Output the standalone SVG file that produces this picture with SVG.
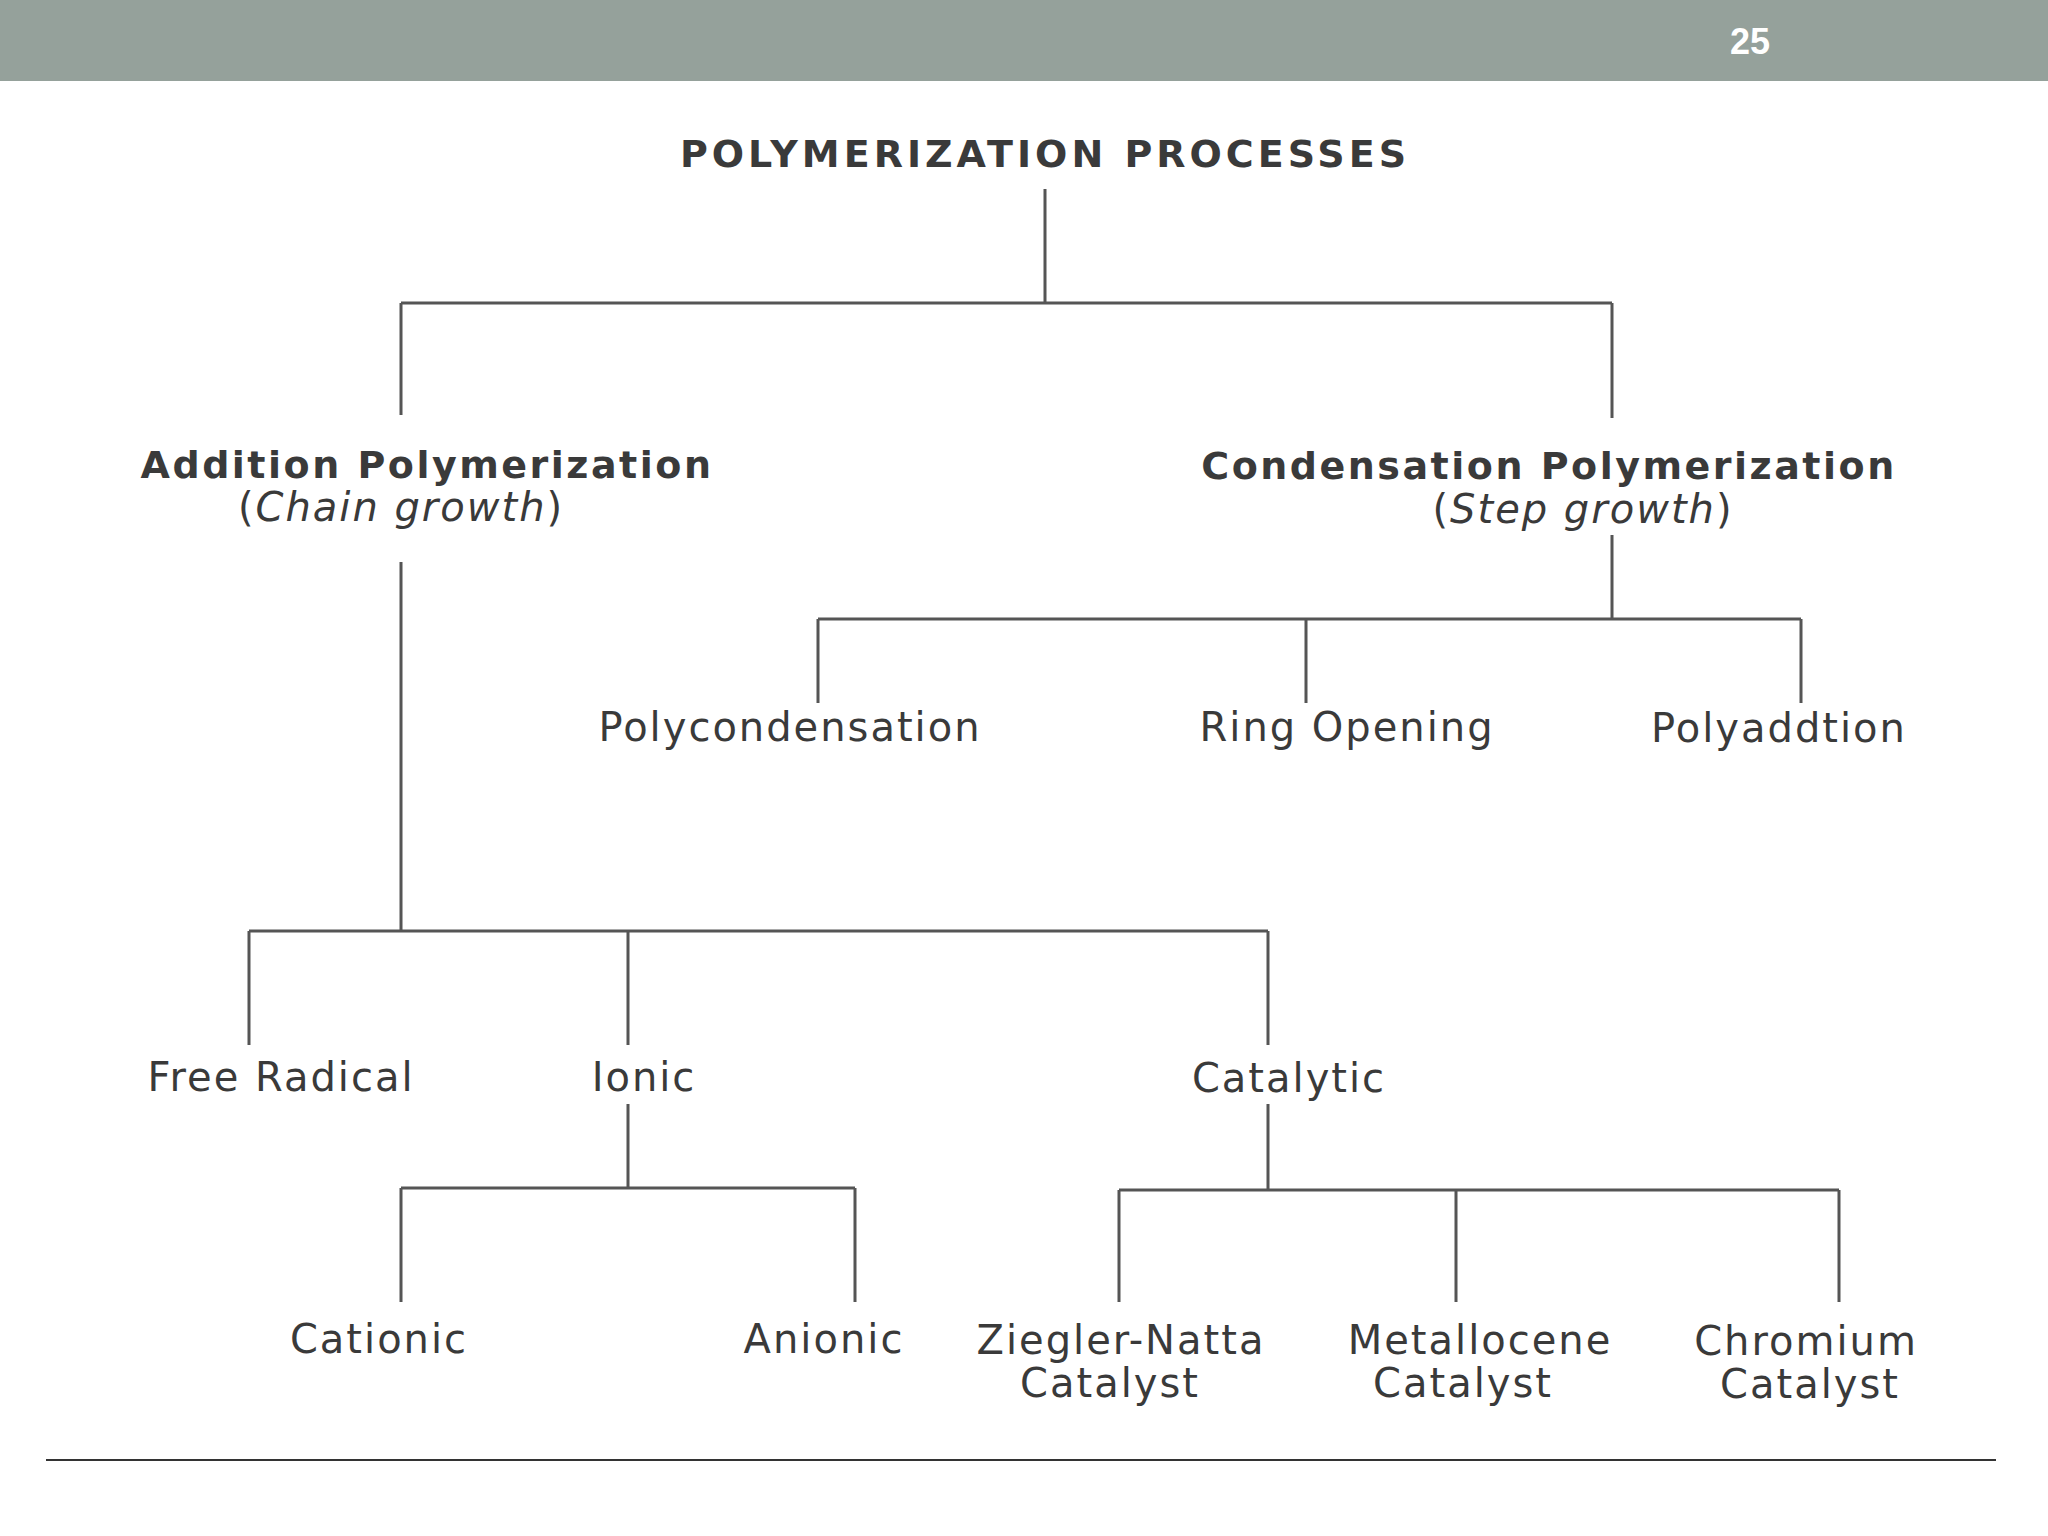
<svg xmlns="http://www.w3.org/2000/svg" width="2048" height="1536" viewBox="0 0 2048 1536">
<style>
.t{font-family:"DejaVu Sans","Liberation Sans",sans-serif;font-size:40px;fill:#3a3a3a;text-anchor:middle;letter-spacing:2px}
.b{font-weight:bold;font-size:38px;letter-spacing:2.5px}
.l{stroke:#555;stroke-width:3;fill:none}
</style>
<rect width="2048" height="1536" fill="#fff"/>
<rect width="2048" height="81" fill="#95a19b"/>
<text x="1750" y="54" style="font-family:'Liberation Sans',Arial,sans-serif;font-weight:bold;font-size:36px;fill:#fff;text-anchor:middle">25</text>
<g id="connectors">
<path class="l" d="M1045 189V303M401 303H1612M401 303V415M1612 303V418"/>
<path class="l" d="M401 562V931M1612 535V619M818 619H1801M818 619V703M1306 619V703M1801 619V703"/>
<path class="l" d="M249 931H1268M249 931V1045M628 931V1045M1268 931V1045"/>
<path class="l" d="M628 1104V1188M401 1188H855M401 1188V1302M855 1188V1302"/>
<path class="l" d="M1268 1104V1190M1119 1190H1839M1119 1190V1302M1456 1190V1302M1839 1190V1302"/>
</g>
<g id="root"><text x="1045" y="167" class="t b" style="font-size:38px;letter-spacing:4px">POLYMERIZATION PROCESSES</text></g>
<g id="addition"><text x="427" y="478" class="t b">Addition Polymerization</text><text x="401" y="521" class="t">(<tspan font-style="italic">Chain growth</tspan>)</text></g>
<g id="condensation"><text x="1549" y="479" class="t b">Condensation Polymerization</text><text x="1583" y="523" class="t">(<tspan font-style="italic">Step growth</tspan>)</text></g>
<g id="polycondensation"><text x="790" y="741" class="t">Polycondensation</text></g>
<g id="ring"><text x="1347" y="741" class="t">Ring Opening</text></g>
<g id="polyaddtion"><text x="1779" y="742" class="t">Polyaddtion</text></g>
<g id="free"><text x="281" y="1091" class="t">Free Radical</text></g>
<g id="ionic"><text x="644" y="1091" class="t">Ionic</text></g>
<g id="catalytic"><text x="1289" y="1092" class="t">Catalytic</text></g>
<g id="cationic"><text x="379" y="1353" class="t">Cationic</text></g>
<g id="anionic"><text x="824" y="1353" class="t">Anionic</text></g>
<g id="ziegler"><text x="1121" y="1354" class="t">Ziegler-Natta</text><text x="1110" y="1397" class="t">Catalyst</text></g>
<g id="metallocene"><text x="1480" y="1354" class="t">Metallocene</text><text x="1463" y="1397" class="t">Catalyst</text></g>
<g id="chromium"><text x="1806" y="1355" class="t">Chromium</text><text x="1810" y="1398" class="t">Catalyst</text></g>
<path d="M46 1460H1996" stroke="#333" stroke-width="2"/>
</svg>
